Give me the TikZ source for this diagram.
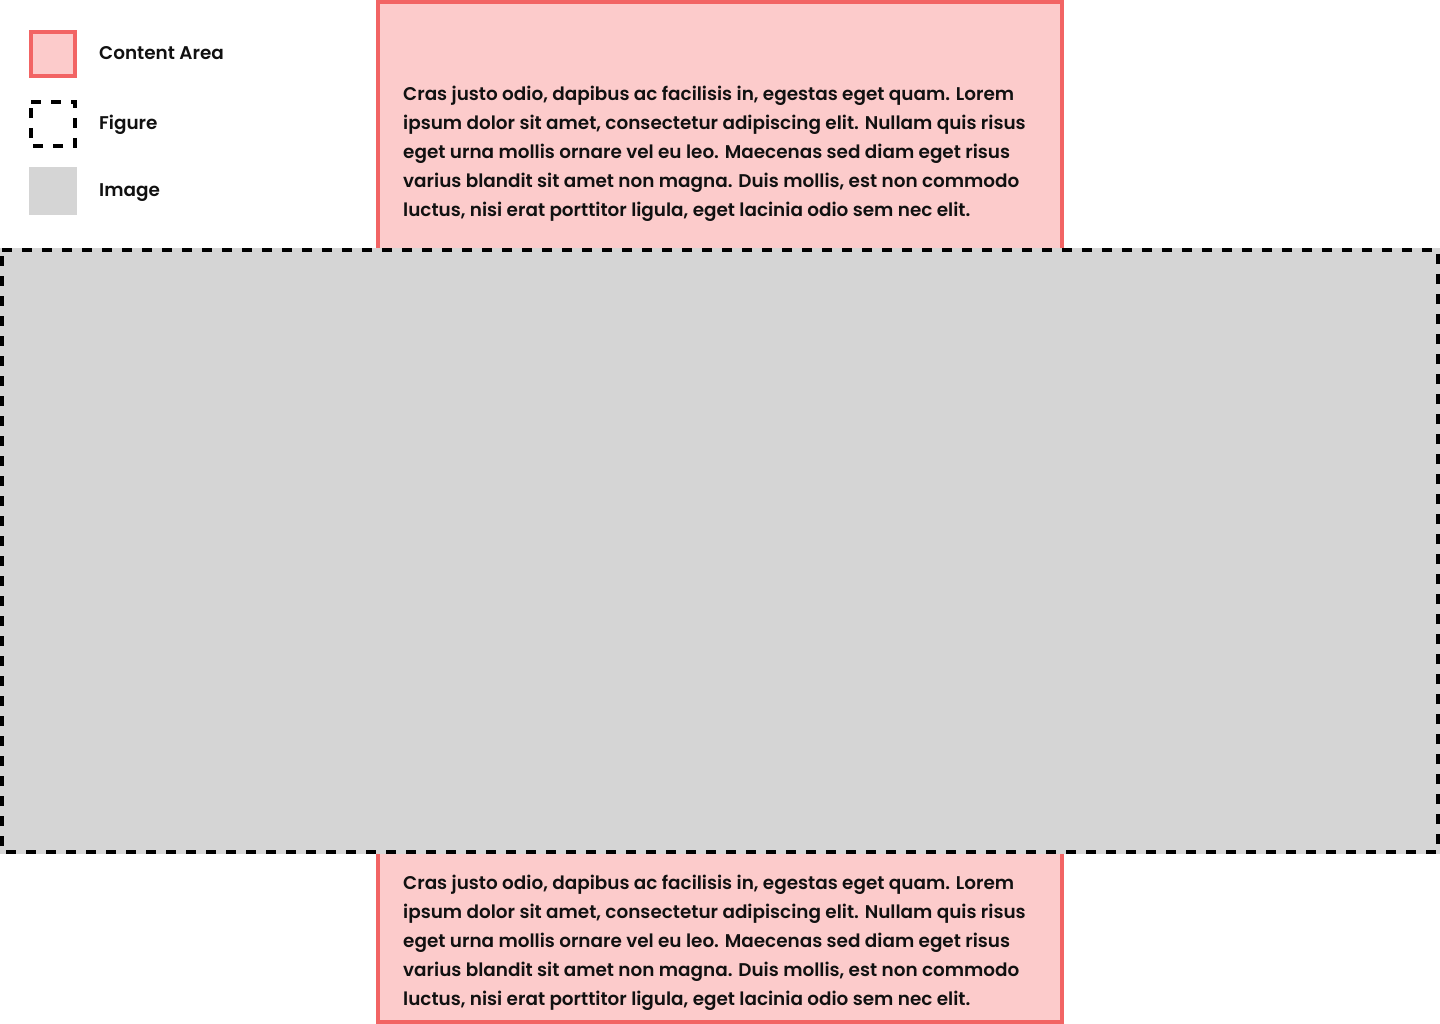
\documentclass[tikz,border=0pt]{standalone}
\usepackage{fontspec}
\newfontfamily\popsb{Poppins SemiBold}
\definecolor{cared}{RGB}{242,100,100}
\definecolor{cafill}{RGB}{252,203,203}
\definecolor{imggray}{RGB}{213,213,213}
\definecolor{txt}{RGB}{17,17,17}
\tikzset{
  contentbox/.style={draw=cared, fill=cafill, line width=4pt},
  figurebox/.style={draw=black, line width=4pt, dash pattern=on 10pt off 10pt},
  imagebox/.style={fill=imggray},
  lbl/.style={anchor=base west, inner sep=0pt, font=\popsb\fontsize{18.4}{22}\selectfont, text=txt},
}
\begin{document}
\begin{tikzpicture}[x=1pt,y=-1pt]
\useasboundingbox (0,0) rectangle (1440,1024);
\fill[white] (0,0) rectangle (1440,1024);
% content areas
\path[contentbox] (378,2) rectangle (1062,300) coordinate (topbox);
\path[contentbox] (378,800) rectangle (1062,1022) coordinate (botbox);
% figure with image
\path[imagebox] (0,248) rectangle (1440,854);
\draw[figurebox] (2,250) -- (1438,250) -- (1438,852) -- (2,852) -- cycle;
% paragraphs
\foreach \t [count=\i] in {
  {Cras justo odio, dapibus ac facilisis in, egestas eget quam. Lorem},
  {ipsum dolor sit amet, consectetur adipiscing elit. Nullam quis risus},
  {eget urna mollis ornare vel eu leo. Maecenas sed diam eget risus},
  {varius blandit sit amet non magna. Duis mollis, est non commodo},
  {luctus, nisi erat porttitor ligula, eget lacinia odio sem nec elit.}} {
  \node[lbl] (top\i) at (403,{100.5+29*(\i-1)}) {\t};
  \node[lbl] (bot\i) at (403,{889.5+29*(\i-1)}) {\t};
}
% legend
\path[contentbox] (31,32) rectangle (75,76) coordinate (lega);
\draw[figurebox] (31,102) -- (75,102) -- (75,146) -- (31,146) -- cycle;
\path[imagebox] (29,167) rectangle (77,215) coordinate (legc);
\node[lbl] (la) at (99,59.5) {Content Area};
\node[lbl] (lb) at (99,129.5) {Figure};
\node[lbl] (lc) at (99,196.5) {Image};
\end{tikzpicture}
\end{document}
